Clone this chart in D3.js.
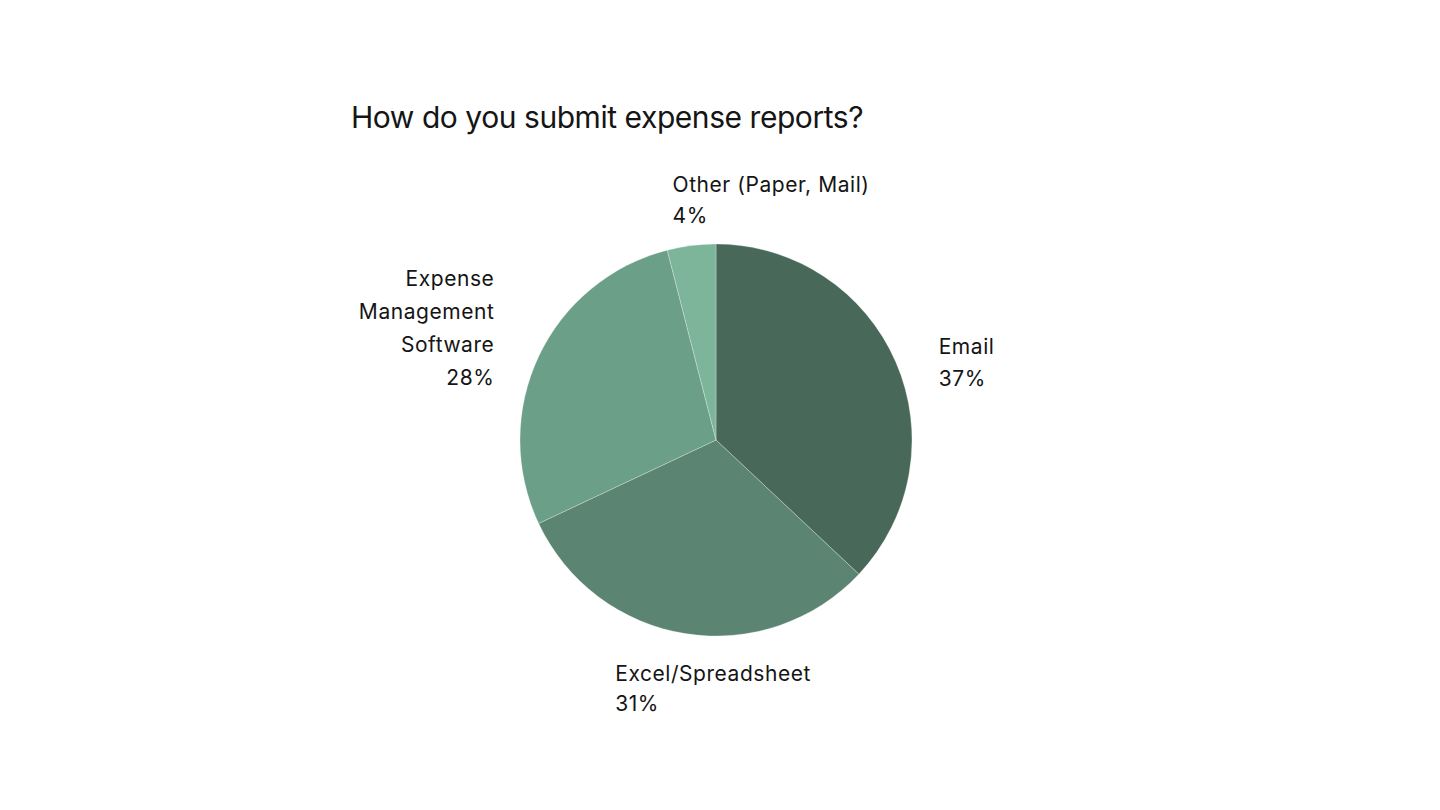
<!DOCTYPE html>
<html>
<head>
<meta charset="utf-8">
<script src="https://cdn.jsdelivr.net/npm/d3@7"></script>
<style>
  body { margin: 0; background: #fff; }
  text { font-family: Inter, "Noto Sans", sans-serif; fill: #151515; }
</style>
</head>
<body>
<div id="chart"></div>
<script>
// data
const categories = ["Email", "Excel/Spreadsheet", "Expense Management Software", "Other (Paper, Mail)"];
const shares = [37, 31, 28, 4];
const labelLines = [["Email"], ["Excel/Spreadsheet"], ["Expense", "Management", "Software"], ["Other (Paper, Mail)"]];
const sliceColors = ["#48695a", "#5b8572", "#6b9f88", "#7db59b"];

// label placement relative to the outer label arc (layout only)
const labelLayout = [
    {anchor: "start", dx: 7, dy: 7, lh: 32},
    {anchor: "start", dx: -64, dy: 9, lh: 30},
    {anchor: "end", dx: -9, dy: -54, lh: 33},
    {anchor: "start", dx: -14, dy: -15, lh: 31}
];

const width = 1440, height = 810;
const cx = 716, cy = 440, radius = 196;

const svg = d3.select("#chart").append("svg")
    .attr("width", width)
    .attr("height", height);

svg.append("text")
    .attr("x", 351)
    .attr("y", 128)
    .attr("font-size", 30)
    .attr("letter-spacing", "-0.45px")
    .text("How do you submit expense reports?");

const data = categories.map((c, i) => ({key: c, value: shares[i], i: i}));

const pie = d3.pie()
    .sort(null)
    .value(d => d.value);

const arc = d3.arc()
    .innerRadius(0)
    .outerRadius(radius);

const labelArc = d3.arc()
    .innerRadius(radius + 39)
    .outerRadius(radius + 39);

const g = svg.append("g")
    .attr("transform", `translate(${cx}, ${cy})`);

const arcs = pie(data);

g.selectAll(".slice")
    .data(arcs)
    .enter()
    .append("path")
    .attr("class", "slice")
    .attr("d", arc)
    .attr("fill", d => sliceColors[d.data.i])
    .attr("stroke", "rgba(255,255,255,0.35)")
    .attr("stroke-width", 0.8);

// outside labels: name lines then percentage
const labels = g.selectAll(".label")
    .data(arcs)
    .enter()
    .append("text")
    .attr("class", "label")
    .attr("font-size", 21)
    .attr("letter-spacing", "0.55px")
    .attr("text-anchor", d => labelLayout[d.data.i].anchor)
    .attr("transform", d => {
        let p = labelArc.centroid(d);
        let l = labelLayout[d.data.i];
        return `translate(${p[0] + l.dx}, ${p[1] + l.dy})`;
    });

labels.each(function(d) {
    let t = d3.select(this);
    let l = labelLayout[d.data.i];
    let lines = labelLines[d.data.i].concat([d.data.value + "%"]);
    lines.forEach((s, k) => {
        t.append("tspan")
            .attr("x", 0)
            .attr("y", k * l.lh)
            .text(s);
    });
});
</script>
</body>
</html>
